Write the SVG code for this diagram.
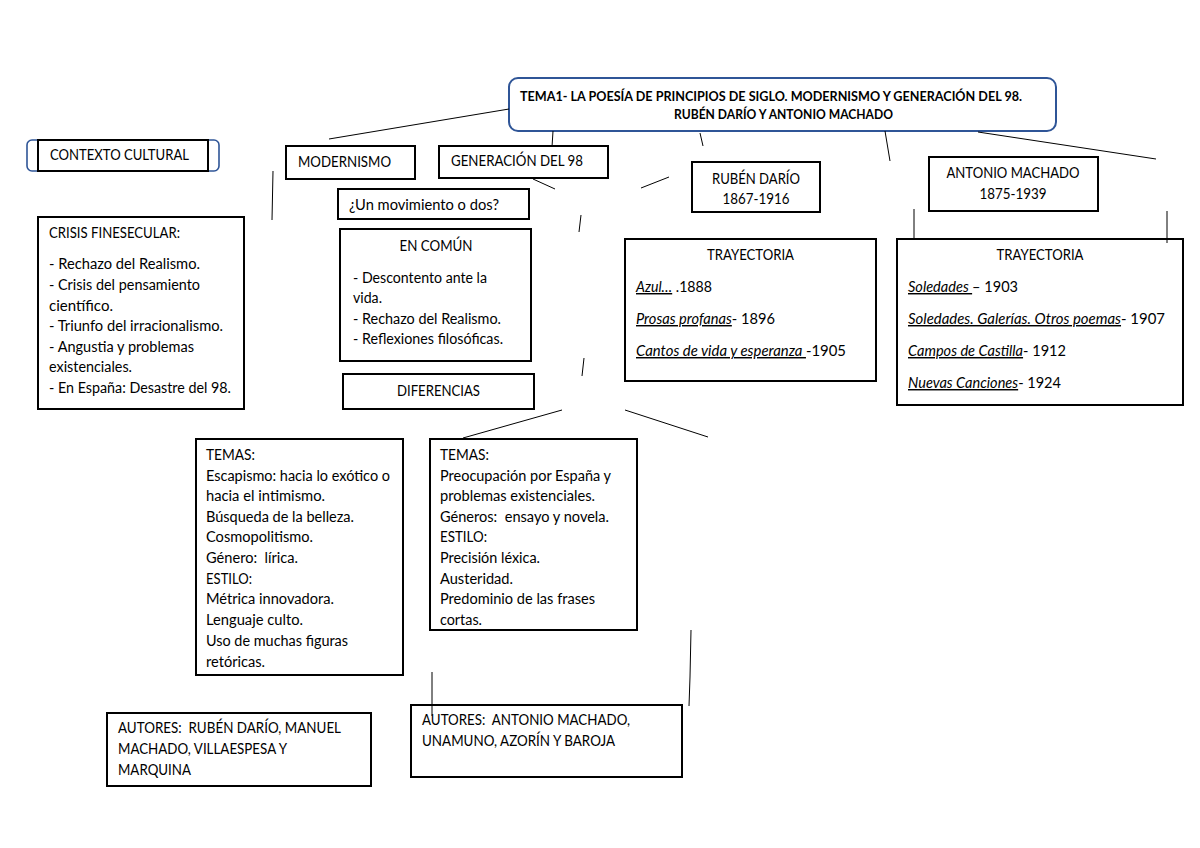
<svg xmlns="http://www.w3.org/2000/svg" width="1200" height="848" viewBox="0 0 1200 848">
<style>
.bx{fill:#fff;stroke:#000;stroke-width:2}
.blue{fill:#fff;stroke:#2F5597;stroke-width:2}
.t{font-family:Lato,"Liberation Sans",sans-serif;font-size:14.5px;fill:#000}
.tb{font-family:Lato,"Liberation Sans",sans-serif;font-size:13.5px;font-weight:bold;fill:#000}
.c{text-anchor:middle}
.u{font-style:italic;text-decoration:underline}
.ln{stroke:#000;stroke-width:1;fill:none}
</style>
<rect width="1200" height="848" fill="#fff"/>

<g id="title">
<rect class="blue" x="509" y="78" width="547" height="53" rx="9"/>
<text class="tb" x="520" y="101" textLength="502" lengthAdjust="spacingAndGlyphs">TEMA1- LA POESÍA DE PRINCIPIOS DE SIGLO. MODERNISMO Y GENERACIÓN DEL 98.</text>
<text class="tb c" x="783.5" y="119" textLength="219" lengthAdjust="spacingAndGlyphs">RUBÉN DARÍO Y ANTONIO MACHADO</text>
</g>

<g id="contexto">
<rect x="27" y="140" width="192" height="31" rx="5" fill="#fff" stroke="#2F5597" stroke-width="1.6"/>
<rect class="bx" x="38" y="140" width="170" height="31"/>
<text class="t" x="50" y="160" textLength="139" lengthAdjust="spacingAndGlyphs">CONTEXTO CULTURAL</text>
</g>

<g id="modernismo">
<rect class="bx" x="286" y="146" width="129" height="33"/>
<text class="t" x="298" y="167" textLength="93" lengthAdjust="spacingAndGlyphs">MODERNISMO</text>
</g>

<g id="generacion">
<rect class="bx" x="439" y="146" width="169" height="32"/>
<text class="t" x="451" y="166" textLength="132" lengthAdjust="spacingAndGlyphs">GENERACIÓN DEL 98</text>
</g>

<g id="pregunta">
<rect class="bx" x="338" y="189" width="191" height="30"/>
<text class="t" x="349" y="210" textLength="150" lengthAdjust="spacingAndGlyphs">¿Un movimiento o dos?</text>
</g>

<g id="encomun">
<rect class="bx" x="340" y="229" width="191" height="132"/>
<text class="t c" x="436" y="251" textLength="73" lengthAdjust="spacingAndGlyphs">EN COMÚN</text>
<text class="t" x="353" y="283" textLength="134" lengthAdjust="spacingAndGlyphs">- Descontento ante la</text>
<text class="t" x="353" y="303" textLength="29" lengthAdjust="spacingAndGlyphs">vida.</text>
<text class="t" x="353" y="324" textLength="148" lengthAdjust="spacingAndGlyphs">- Rechazo del Realismo.</text>
<text class="t" x="353" y="344" textLength="150" lengthAdjust="spacingAndGlyphs">- Reflexiones filosóficas.</text>
</g>

<g id="diferencias">
<rect class="bx" x="343" y="374" width="191" height="35"/>
<text class="t c" x="438.5" y="396" textLength="83" lengthAdjust="spacingAndGlyphs">DIFERENCIAS</text>
</g>

<g id="crisis">
<rect class="bx" x="38" y="217" width="206" height="192"/>
<text class="t" x="49" y="238" textLength="131" lengthAdjust="spacingAndGlyphs">CRISIS FINESECULAR:</text>
<text class="t" x="49" y="269" textLength="151" lengthAdjust="spacingAndGlyphs">- Rechazo del Realismo.</text>
<text class="t" x="49" y="290" textLength="151" lengthAdjust="spacingAndGlyphs">- Crisis del pensamiento</text>
<text class="t" x="49" y="311" textLength="64" lengthAdjust="spacingAndGlyphs">científico.</text>
<text class="t" x="49" y="331" textLength="174" lengthAdjust="spacingAndGlyphs">- Triunfo del irracionalismo.</text>
<text class="t" x="49" y="352" textLength="145" lengthAdjust="spacingAndGlyphs">- Angustia y problemas</text>
<text class="t" x="49" y="372" textLength="83" lengthAdjust="spacingAndGlyphs">existenciales.</text>
<text class="t" x="49" y="393" textLength="182" lengthAdjust="spacingAndGlyphs">- En España: Desastre del 98.</text>
</g>

<g id="ruben">
<rect class="bx" x="692" y="162" width="128" height="50"/>
<text class="t c" x="756" y="184" textLength="88" lengthAdjust="spacingAndGlyphs">RUBÉN DARÍO</text>
<text class="t c" x="756" y="204" textLength="67" lengthAdjust="spacingAndGlyphs">1867-1916</text>
</g>

<g id="machado">
<rect class="bx" x="929" y="157" width="169" height="54"/>
<text class="t c" x="1013" y="178" textLength="133" lengthAdjust="spacingAndGlyphs">ANTONIO MACHADO</text>
<text class="t c" x="1013" y="199" textLength="67" lengthAdjust="spacingAndGlyphs">1875-1939</text>
</g>

<g id="trayectoria-ruben">
<rect class="bx" x="625" y="239" width="251" height="142"/>
<text class="t c" x="750.5" y="260" textLength="87" lengthAdjust="spacingAndGlyphs">TRAYECTORIA</text>
<text class="t" x="636" y="292" textLength="76" lengthAdjust="spacingAndGlyphs"><tspan class="u">Azul…</tspan> .1888</text>
<text class="t" x="636" y="324" textLength="139" lengthAdjust="spacingAndGlyphs"><tspan class="u">Prosas profanas</tspan>- 1896</text>
<text class="t" x="636" y="356" textLength="210" lengthAdjust="spacingAndGlyphs"><tspan class="u">Cantos de vida y esperanza </tspan>-1905</text>
</g>

<g id="trayectoria-machado">
<rect class="bx" x="897" y="239" width="286" height="166"/>
<text class="t c" x="1040" y="260" textLength="87" lengthAdjust="spacingAndGlyphs">TRAYECTORIA</text>
<text class="t" x="908" y="292" textLength="110" lengthAdjust="spacingAndGlyphs"><tspan class="u">Soledades </tspan>– 1903</text>
<text class="t" x="908" y="324" textLength="257" lengthAdjust="spacingAndGlyphs"><tspan class="u">Soledades. Galerías. Otros poemas</tspan>- 1907</text>
<text class="t" x="908" y="356" textLength="158" lengthAdjust="spacingAndGlyphs"><tspan class="u">Campos de Castilla</tspan>- 1912</text>
<text class="t" x="908" y="388" textLength="153" lengthAdjust="spacingAndGlyphs"><tspan class="u">Nuevas Canciones</tspan>- 1924</text>
</g>

<g id="temas-modernismo">
<rect class="bx" x="196" y="439" width="207" height="236"/>
<text class="t" x="206" y="460" textLength="49" lengthAdjust="spacingAndGlyphs">TEMAS:</text>
<text class="t" x="206" y="481" textLength="184" lengthAdjust="spacingAndGlyphs">Escapismo: hacia lo exótico o</text>
<text class="t" x="206" y="501" textLength="119" lengthAdjust="spacingAndGlyphs">hacia el intimismo.</text>
<text class="t" x="206" y="522" textLength="148" lengthAdjust="spacingAndGlyphs">Búsqueda de la belleza.</text>
<text class="t" x="206" y="542" textLength="107" lengthAdjust="spacingAndGlyphs">Cosmopolitismo.</text>
<text class="t" x="206" y="563" textLength="92" lengthAdjust="spacingAndGlyphs" xml:space="preserve">Género:  lírica.</text>
<text class="t" x="206" y="584" textLength="46" lengthAdjust="spacingAndGlyphs">ESTILO:</text>
<text class="t" x="206" y="604" textLength="128" lengthAdjust="spacingAndGlyphs">Métrica innovadora.</text>
<text class="t" x="206" y="625" textLength="97" lengthAdjust="spacingAndGlyphs">Lenguaje culto.</text>
<text class="t" x="206" y="646" textLength="142" lengthAdjust="spacingAndGlyphs">Uso de muchas figuras</text>
<text class="t" x="206" y="667" textLength="59" lengthAdjust="spacingAndGlyphs">retóricas.</text>
</g>

<g id="temas-98">
<rect class="bx" x="430" y="439" width="207" height="191"/>
<text class="t" x="440" y="460" textLength="49" lengthAdjust="spacingAndGlyphs">TEMAS:</text>
<text class="t" x="440" y="481" textLength="171" lengthAdjust="spacingAndGlyphs">Preocupación por España y</text>
<text class="t" x="440" y="501" textLength="155" lengthAdjust="spacingAndGlyphs">problemas existenciales.</text>
<text class="t" x="440" y="522" textLength="169" lengthAdjust="spacingAndGlyphs" xml:space="preserve">Géneros:  ensayo y novela.</text>
<text class="t" x="440" y="542" textLength="47" lengthAdjust="spacingAndGlyphs">ESTILO:</text>
<text class="t" x="440" y="563" textLength="100" lengthAdjust="spacingAndGlyphs">Precisión léxica.</text>
<text class="t" x="440" y="584" textLength="73" lengthAdjust="spacingAndGlyphs">Austeridad.</text>
<text class="t" x="440" y="604" textLength="155" lengthAdjust="spacingAndGlyphs">Predominio de las frases</text>
<text class="t" x="440" y="625" textLength="42" lengthAdjust="spacingAndGlyphs">cortas.</text>
</g>

<g id="autores-modernismo">
<rect class="bx" x="107" y="713" width="264" height="73"/>
<text class="t" x="118" y="733" textLength="223" lengthAdjust="spacingAndGlyphs" xml:space="preserve">AUTORES:  RUBÉN DARÍO, MANUEL</text>
<text class="t" x="118" y="754" textLength="169" lengthAdjust="spacingAndGlyphs">MACHADO, VILLAESPESA Y</text>
<text class="t" x="118" y="775" textLength="73" lengthAdjust="spacingAndGlyphs">MARQUINA</text>
</g>

<g id="autores-98">
<rect class="bx" x="411" y="705" width="271" height="72"/>
<text class="t" x="422" y="725" textLength="208" lengthAdjust="spacingAndGlyphs" xml:space="preserve">AUTORES:  ANTONIO MACHADO,</text>
<text class="t" x="422" y="746" textLength="193" lengthAdjust="spacingAndGlyphs">UNAMUNO, AZORÍN Y BAROJA</text>
</g>

<g id="connectors">
<line class="ln" x1="329" y1="139" x2="509" y2="109"/>
<line class="ln" x1="553" y1="131" x2="552" y2="147"/>
<line class="ln" x1="533" y1="179" x2="555" y2="189"/>
<line class="ln" x1="641" y1="188" x2="669" y2="177"/>
<line class="ln" x1="700" y1="133" x2="703" y2="146"/>
<line class="ln" x1="581" y1="215" x2="579" y2="232"/>
<line class="ln" x1="584" y1="358" x2="582" y2="376"/>
<line class="ln" x1="273" y1="171" x2="272" y2="220"/>
<line class="ln" x1="562" y1="410" x2="463" y2="438"/>
<line class="ln" x1="625" y1="410" x2="708" y2="437"/>
<line class="ln" x1="432" y1="672" x2="432" y2="716"/>
<line class="ln" x1="691" y1="630" x2="690" y2="677"/>
<line class="ln" x1="690" y1="677" x2="689" y2="706"/>
<line class="ln" x1="885" y1="131" x2="890" y2="161"/>
<line class="ln" x1="978" y1="132" x2="1156" y2="159"/>
<line class="ln" x1="914" y1="209" x2="914" y2="239"/>
<line class="ln" x1="1167" y1="211" x2="1167" y2="243"/>
</g>
</svg>
